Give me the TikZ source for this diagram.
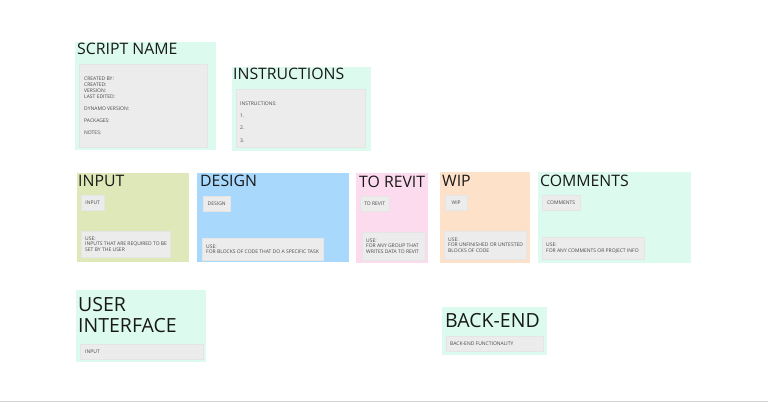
\documentclass[tikz,border=0pt]{standalone}
\usepackage{fontspec}
\setmainfont{Open Sans}
\definecolor{mint}{HTML}{DCFBEE}
\definecolor{olive}{HTML}{DFE8B9}
\definecolor{sky}{HTML}{A8D8FC}
\definecolor{rose}{HTML}{FDDBEE}
\definecolor{peach}{HTML}{FDE2C9}
\definecolor{cardgray}{HTML}{ECECEC}
\definecolor{txtgray}{HTML}{484848}
\begin{document}
\begin{tikzpicture}[x=1pt,y=-1pt,
  grp/.style={fill=#1,inner sep=0pt,anchor=north west},
  ttl/.style={anchor=north west,inner sep=0pt,text=black!90,font=\fontsize{15.8}{18}\selectfont},
  bigttl/.style={ttl,align=left,font=\fontsize{19.5}{21}\selectfont},
  card/.style={fill=cardgray,draw=black!10,anchor=north west,inner sep=0pt,
    minimum height=15pt,text=txtgray,font=\fontsize{5}{5.9}\selectfont},
  note/.style={anchor=north west,inner sep=0pt,align=left,text=txtgray,font=\fontsize{5}{5.9}\selectfont},
  usenote/.style={note,anchor=west}]
\useasboundingbox (0,0) rectangle (768,402);
\draw[black!18,line width=1pt] (0,401) -- (768,401);

% top row
\node[grp=mint,minimum width=141pt,minimum height=108pt] (script) at (75,42) {};
\node[ttl] (scripttitle) at ([xshift=2pt,yshift=-1pt]script.north west) {SCRIPT NAME};
\node[card,minimum width=128pt,minimum height=83pt] (scriptcard) at (79,64) {};
\node[note] (scriptnote) at ([xshift=5pt,yshift=-12.5pt]scriptcard.north west)
  {CREATED BY:\\CREATED:\\VERSION:\\LAST EDITED:\\[6.4pt]DYNAMO VERSION:\\[6.4pt]PACKAGES:\\[6.4pt]NOTES:};

\node[grp=mint,minimum width=139pt,minimum height=84pt] (instr) at (232,67) {};
\node[ttl] (instrtitle) at ([xshift=1pt,yshift=-1pt]instr.north west) {INSTRUCTIONS};
\node[card,minimum width=129pt,minimum height=58pt] (instrcard) at (236,89) {};
\node[note] (instrnote) at ([xshift=4pt,yshift=-12.5pt]instrcard.north west)
  {INSTRUCTIONS:\\[6.4pt]1.\\[6.4pt]2.\\[6.4pt]3.};

% middle row
\node[grp=olive,minimum width=112pt,minimum height=89pt] (input) at (77,173) {};
\node[ttl] (inputtitle) at ([xshift=1pt,yshift=-2pt]input.north west) {INPUT};
\node[card,minimum width=23pt] (inputtag) at (81,195) {INPUT};
\node[card,minimum width=89pt,minimum height=26pt] (inputuse) at (81,231) {};
\node[usenote] (inputnote) at ([xshift=4pt]inputuse.west)
  {USE:\\INPUTS THAT ARE REQUIRED TO BE\\SET BY THE USER};

\node[grp=sky,minimum width=152pt,minimum height=89pt] (design) at (197,173) {};
\node[ttl] (designtitle) at ([xshift=3pt,yshift=-2pt]design.north west) {DESIGN};
\node[card,minimum width=27pt] (designtag) at (203,196) {DESIGN};
\node[card,minimum width=121pt,minimum height=22pt] (designuse) at (202,238) {};
\node[usenote] (designnote) at ([xshift=4pt]designuse.west)
  {USE:\\FOR BLOCKS OF CODE THAT DO A SPECIFIC TASK};

\node[grp=rose,minimum width=72pt,minimum height=90pt] (revit) at (356,173) {};
\node[ttl] (revittitle) at ([xshift=3pt,yshift=-2.5pt]revit.north west) {TO REVIT};
\node[card,minimum width=29pt] (revittag) at (360,196) {TO REVIT};
\node[card,minimum width=63pt,minimum height=28pt] (revituse) at (362,232) {};
\node[usenote] (revitnote) at ([xshift=4pt]revituse.west)
  {USE:\\FOR ANY GROUP THAT\\WRITES DATA TO REVIT};

\node[grp=peach,minimum width=90pt,minimum height=91pt] (wip) at (440,172) {};
\node[ttl] (wiptitle) at ([xshift=2pt,yshift=-3pt]wip.north west) {WIP};
\node[card,minimum width=22pt] (wiptag) at (445,195) {WIP};
\node[card,minimum width=82pt,minimum height=28pt] (wipuse) at (444,231) {};
\node[usenote] (wipnote) at ([xshift=4pt]wipuse.west)
  {USE:\\FOR UNFINISHED OR UNTESTED\\BLOCKS OF CODE};

\node[grp=mint,minimum width=153pt,minimum height=91pt] (comments) at (538,172) {};
\node[ttl] (commentstitle) at ([xshift=2pt,yshift=-3pt]comments.north west) {COMMENTS};
\node[card,minimum width=38pt] (commentstag) at (542,195) {COMMENTS};
\node[card,minimum width=102pt,minimum height=22pt] (commentsuse) at (542,237) {};
\node[usenote] (commentsnote) at ([xshift=4pt]commentsuse.west)
  {USE:\\FOR ANY COMMENTS OR PROJECT INFO};

% bottom row
\node[grp=mint,minimum width=130pt,minimum height=72pt] (ui) at (76,290) {};
\node[bigttl] (uititle) at ([xshift=2pt,yshift=-7pt]ui.north west) {USER\\INTERFACE};
\node[card,minimum width=123pt] (uicard) at (80,344) {};
\node[usenote] (uinote) at ([xshift=5pt]uicard.west) {INPUT};

\node[grp=mint,minimum width=105pt,minimum height=48pt] (backend) at (442,307) {};
\node[bigttl] (backendtitle) at ([xshift=3pt,yshift=-6pt]backend.north west) {BACK-END};
\node[card,minimum width=97pt] (backendcard) at (446,336) {};
\node[usenote] (backendnote) at ([xshift=4pt]backendcard.west) {BACK-END FUNCTIONALITY};
\end{tikzpicture}
\end{document}
